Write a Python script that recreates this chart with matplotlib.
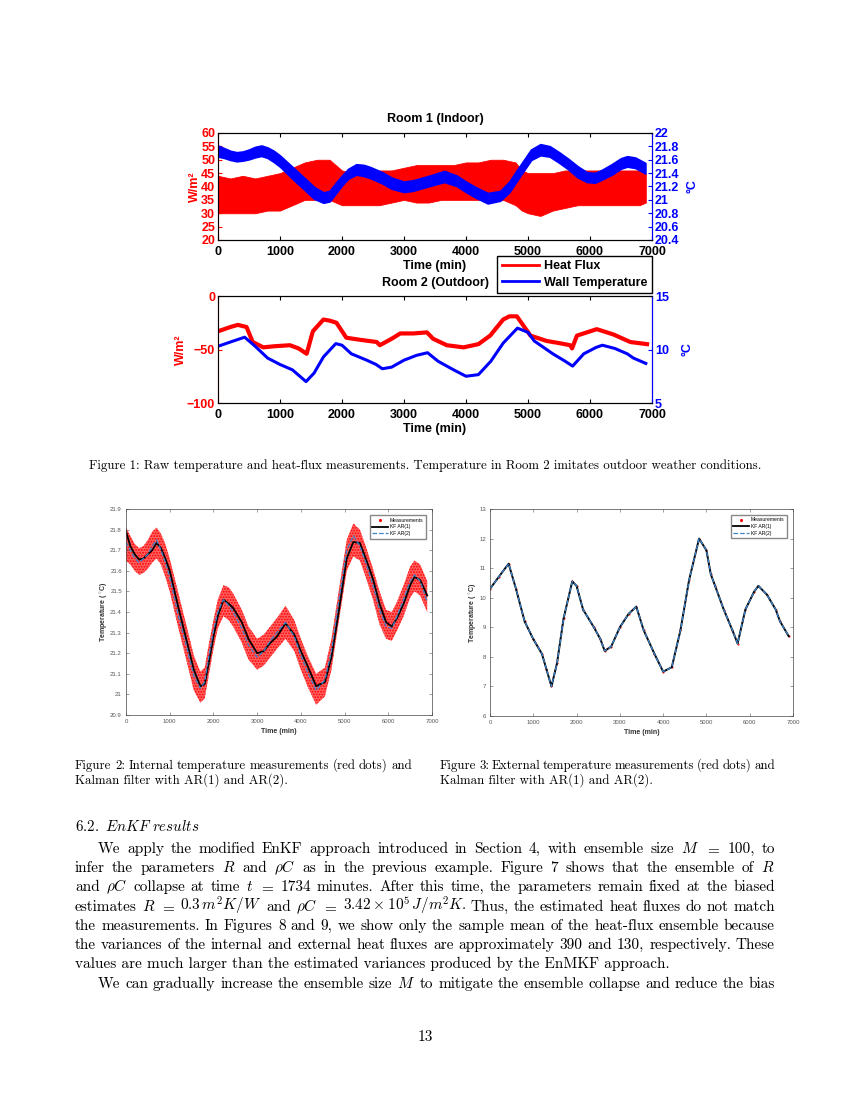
import matplotlib
matplotlib.use("Agg")
import matplotlib.pyplot as plt
from matplotlib.lines import Line2D
from matplotlib.ticker import FuncFormatter
import numpy as np

plt.rcParams['font.family'] = ['Liberation Sans', 'DejaVu Sans']
plt.rcParams['mathtext.fontset'] = 'cm'
plt.rcParams['hatch.linewidth'] = 0.9

# Room 1 heat flux, envelope of the dense signal (W/m^2)
t_flux1 = [0, 200, 400, 600, 800, 1000, 1100, 1200, 1300, 1400, 1600, 1800, 1900, 2000,
           2200, 2400, 2600, 2800, 3000, 3200, 3400, 3600, 3800, 4000, 4200, 4400, 4600,
           4800, 4900, 5000, 5200, 5400, 5600, 5800, 6000, 6200, 6400, 6600, 6800, 6900]
flux1_hi = [44, 43, 44, 43, 44, 45, 46, 47, 48, 49, 50, 50, 48, 46,
            45, 45, 46, 46, 47, 48, 48, 48, 48, 49, 49, 50, 50,
            49, 46, 45, 45, 45, 46, 46, 46, 46, 46, 46, 46, 45]
flux1_lo = [30, 30, 30, 30, 31, 31, 32, 33, 34, 35, 35, 35, 34, 33,
            33, 33, 33, 34, 35, 34, 34, 35, 35, 35, 35, 35, 35,
            33, 31, 30, 29, 31, 32, 33, 33, 33, 33, 33, 33, 34]

# internal wall temperature (deg C): measurements band and Kalman filters
t_in = [0, 100, 200, 300, 400, 500, 600, 700, 800, 900, 1000, 1200, 1400, 1550, 1700,
        1800, 1900, 2000, 2100, 2230, 2350, 2450, 2650, 2800, 3000, 3150, 3300, 3450,
        3650, 3850, 4000, 4150, 4350, 4550, 4700, 4850, 5050, 5200, 5350, 5500, 5650,
        5800, 5950, 6080, 6200, 6350, 6500, 6600, 6730, 6890]
meas_hi = [21.81, 21.77, 21.73, 21.71, 21.72, 21.75, 21.79, 21.81, 21.78, 21.73, 21.66,
           21.49, 21.32, 21.19, 21.11, 21.13, 21.25, 21.36, 21.46, 21.53, 21.52, 21.49,
           21.41, 21.33, 21.27, 21.29, 21.33, 21.37, 21.43, 21.36, 21.27, 21.19, 21.10,
           21.13, 21.27, 21.48, 21.75, 21.83, 21.80, 21.71, 21.61, 21.50, 21.41, 21.40,
           21.45, 21.53, 21.62, 21.65, 21.63, 21.55]
meas_lo = [21.65, 21.63, 21.60, 21.58, 21.59, 21.61, 21.64, 21.66, 21.63, 21.57, 21.50,
           21.32, 21.15, 21.02, 20.96, 20.98, 21.10, 21.22, 21.32, 21.38, 21.36, 21.33,
           21.25, 21.17, 21.12, 21.14, 21.18, 21.22, 21.27, 21.21, 21.12, 21.04, 20.95,
           20.99, 21.12, 21.33, 21.60, 21.67, 21.65, 21.56, 21.46, 21.34, 21.27, 21.26,
           21.31, 21.38, 21.47, 21.50, 21.48, 21.40]
kf1_in = [21.79, 21.72, 21.68, 21.655, 21.66, 21.68, 21.70, 21.735, 21.71, 21.66, 21.60,
          21.42, 21.25, 21.12, 21.04, 21.05, 21.16, 21.28, 21.38, 21.46, 21.44, 21.42,
          21.35, 21.27, 21.20, 21.21, 21.25, 21.28, 21.345, 21.29, 21.21, 21.14, 21.04,
          21.06, 21.18, 21.38, 21.66, 21.74, 21.735, 21.65, 21.56, 21.44, 21.35, 21.33,
          21.37, 21.44, 21.53, 21.57, 21.555, 21.48]
kf2_in = [21.74, 21.70, 21.66, 21.64, 21.66, 21.68, 21.72, 21.75, 21.70, 21.64, 21.57,
          21.38, 21.22, 21.09, 21.03, 21.06, 21.19, 21.31, 21.40, 21.46, 21.43, 21.40,
          21.32, 21.24, 21.18, 21.21, 21.26, 21.30, 21.35, 21.28, 21.19, 21.11, 21.02,
          21.07, 21.21, 21.43, 21.70, 21.77, 21.72, 21.63, 21.53, 21.41, 21.33, 21.32,
          21.38, 21.46, 21.55, 21.58, 21.55, 21.45]

# Room 2 heat flux (W/m^2)
t_flux2 = [0, 100, 200, 320, 460, 560, 730, 900, 1160, 1300, 1430, 1530, 1700, 1800, 1910,
           2070, 2300, 2560, 2610, 2800, 2940, 3150, 3370, 3470, 3690, 3960, 4200, 4390,
           4600, 4700, 4820, 5040, 5300, 5500, 5680, 5710, 5790, 6110, 6380, 6650, 6920]
flux2 = [-33, -31, -29, -27, -29, -43, -48, -47, -46, -49, -54, -33, -22, -23, -25,
         -39, -41, -43, -46, -40, -35, -35, -34, -40, -46, -48, -45, -37,
         -22, -19, -19, -37, -42, -44, -46, -49, -37, -31, -36, -43, -45]

# external wall temperature (deg C)
t_out = [0, 200, 430, 600, 800, 1000, 1200, 1300, 1420, 1550, 1700, 1900, 2000, 2150,
         2400, 2550, 2650, 2800, 3000, 3200, 3380, 3550, 3800, 4000, 4200, 4400, 4600,
         4830, 5000, 5100, 5200, 5400, 5600, 5720, 5900, 6100, 6200, 6400, 6600, 6700, 6900]
temp_out = [10.3, 10.7, 11.15, 10.3, 9.2, 8.6, 8.1, 7.6, 7.0, 7.8, 9.3, 10.55, 10.4, 9.6,
            9.0, 8.6, 8.2, 8.35, 9.0, 9.45, 9.7, 8.9, 8.1, 7.5, 7.65, 8.9, 10.6,
            12.0, 11.6, 10.8, 10.4, 9.6, 8.9, 8.45, 9.6, 10.2, 10.4, 10.1, 9.6, 9.2, 8.7]

time_ticks = list(range(0, 7001, 1000))

fig = plt.figure(figsize=(8.5, 11), dpi=100)
W, H = 850, 1100


def box(x0, y0, x1, y1):
    return fig.add_axes([x0 / W, 1 - y1 / H, (x1 - x0) / W, (y1 - y0) / H])


num = FuncFormatter(lambda v, p: ('%g' % round(v, 3)).replace('-', '\u2212'))


def old_style(ax, axr, lcol, rcol, rpad):
    ax.set_xlim(0, 7000)
    ax.set_xticks(time_ticks)
    ax.tick_params(direction='in', top=True, length=3, width=0.8, labelsize=9, pad=2)
    ax.tick_params(axis='x', pad=4)
    ax.tick_params(axis='y', colors=lcol)
    axr.tick_params(direction='in', length=3, width=0.8, labelsize=9, pad=2, colors=rcol)
    ax.spines['left'].set_color(lcol)
    axr.spines['right'].set_color(rcol)
    for a in (ax, axr):
        a.yaxis.set_major_formatter(num)
        for lab in a.get_xticklabels() + a.get_yticklabels():
            lab.set_fontweight('bold')
    ax.set_xlabel('Time (min)', fontsize=9, fontweight='bold', labelpad=1.5)
    ax.set_ylabel('W/m\u00b2', fontsize=9, fontweight='bold', color=lcol, labelpad=0)
    axr.set_ylabel('\u00b0C', fontsize=9, fontweight='bold', color=rcol, labelpad=rpad)


# ---- Figure 1, Room 1
ax1 = box(218, 133, 652, 240)
ax1.fill_between(t_flux1, flux1_lo, flux1_hi, color='red', lw=0.6)
ax1.set_ylim(20, 60)
ax1.set_yticks(range(20, 61, 5))
ax1r = ax1.twinx()
ax1r.fill_between(t_in, meas_lo, meas_hi, color='blue', lw=1.5)
ax1r.set_ylim(20.4, 22)
ax1r.set_yticks(np.linspace(20.4, 22, 9))
old_style(ax1, ax1r, 'red', 'blue', 5)
ax1.set_title('Room 1 (Indoor)', fontsize=9, fontweight='bold', pad=8)

# ---- Figure 1, Room 2
ax2 = box(218, 296, 652, 403)
ax2.plot(t_flux2, flux2, color='red', lw=3)
ax2.set_ylim(-100, 0)
ax2.set_yticks([-100, -50, 0])
ax2r = ax2.twinx()
ax2r.plot(t_out, temp_out, color='blue', lw=2.2)
ax2r.set_ylim(5, 15)
ax2r.set_yticks([5, 10, 15])
old_style(ax2, ax2r, 'red', 'blue', 9)
ax2.set_title('Room 2 (Outdoor)', fontsize=9, fontweight='bold', pad=7.5)

fig.legend(handles=[Line2D([], [], color='red', lw=2), Line2D([], [], color='blue', lw=2)],
           labels=['Heat Flux', 'Wall Temperature'], loc='upper right',
           bbox_to_anchor=(652 / W, 1 - 256 / H), fancybox=False, edgecolor='black',
           framealpha=1, prop={'weight': 'bold', 'size': 9}, handlelength=3.0,
           borderpad=0.35, labelspacing=0.35, handletextpad=0.4, borderaxespad=0)


def new_style(ax, yticks):
    ax.set_xlim(0, 7000)
    ax.set_xticks(time_ticks)
    ax.set_ylim(yticks[0], yticks[-1])
    ax.set_yticks(yticks)
    ax.yaxis.set_major_formatter(num)
    ax.tick_params(direction='in', top=True, right=True, length=2, width=0.4,
                   labelsize=4.3, colors='#555555', pad=3)
    for s in ax.spines.values():
        s.set_linewidth(0.5)
        s.set_color('#444444')
    ax.set_xlabel('Time (min)', fontsize=5, fontweight='bold', color='#333333', labelpad=3)
    ax.set_ylabel('Temperature ( $^{\\circ}$C)', fontsize=5, fontweight='bold',
                  color='#333333', labelpad=0)
    hs = [Line2D([], [], ls='none', marker='.', color='red', ms=2.5),
          Line2D([], [], color='black', lw=1.3),
          Line2D([], [], color='#3c86d0', lw=0.9, ls='--')]
    ax.legend(hs, ['Measurements', 'KF AR(1)', 'KF AR(2)'], loc='upper right',
              fontsize=3.6, fancybox=False, edgecolor='#888888', framealpha=1,
              handlelength=3.2, borderpad=0.5, labelspacing=0.35, handletextpad=0.3,
              borderaxespad=1.2)


# ---- Figure 2
ax3 = box(126, 509, 432, 715)
ax3.fill_between(t_in, meas_lo, meas_hi, facecolor='#ff6262', edgecolor='#ff0000',
                 hatch='......', lw=0)
ax3.plot(t_in, kf1_in, color='black', lw=1.3)
ax3.plot(t_in, kf2_in, color='#3c86d0', lw=0.9, ls='--')
new_style(ax3, [20.9, 21.0, 21.1, 21.2, 21.3, 21.4, 21.5, 21.6, 21.7, 21.8, 21.9])

# ---- Figure 3
ax4 = box(490, 509, 793, 716)
ax4.plot(t_out, temp_out, ls='none', marker='.', color='red', ms=1.0)
ax4.plot(t_out, temp_out, color='black', lw=1.4)
ax4.plot(t_out, temp_out, color='#3c86d0', lw=0.9, ls='--')
new_style(ax4, [6, 7, 8, 9, 10, 11, 12, 13])

# ---- page text
CM = 'cmr10'
BODY = 11.0
CAP = 9.3


def split_words(line):
    words, cur, in_math = [], '', False
    for ch in line:
        if ch == '$':
            in_math = not in_math
        if ch == ' ' and not in_math:
            if cur:
                words.append(cur)
            cur = ''
        else:
            cur += ch
    if cur:
        words.append(cur)
    return words


def justify(line, x0, x1, y, size):
    r = fig.canvas.get_renderer()
    words = split_words(line)
    arts = [fig.text(0, 1 - y / H, w, fontsize=size, family=CM, va='baseline') for w in words]
    widths = [a.get_window_extent(r).width for a in arts]
    gap = (x1 - x0 - sum(widths)) / (len(words) - 1)
    x = x0
    for a, w in zip(arts, widths):
        a.set_x(x / W)
        x += w + gap


def plain(line, x, y, size, ha='left'):
    fig.text(x / W, 1 - y / H, line, fontsize=size, family=CM, va='baseline', ha=ha)


plain('Figure 1: Raw temperature and heat-flux measurements. Temperature in Room 2 imitates '
      'outdoor weather conditions.', 425, 469, CAP, ha='center')

justify('Figure 2: Internal temperature measurements (red dots) and', 75, 412, 769, CAP)
plain('Kalman filter with AR(1) and AR(2).', 75, 784, CAP)
justify('Figure 3: External temperature measurements (red dots) and', 440, 775, 769, CAP)
plain('Kalman filter with AR(1) and AR(2).', 440, 784, CAP)

fig.text(75 / W, 1 - 831 / H, r'$\mathit{6.2.\ EnKF\ results}$', fontsize=10.8, va='baseline')

body = [
    ('We apply the modified EnKF approach introduced in Section 4, with ensemble size $M$ $=$ 100, to', 98, 853),
    ('infer the parameters $R$ and $\\rho C$ as in the previous example. Figure 7 shows that the ensemble of $R$', 75, 872),
    ('and $\\rho C$ collapse at time $t$ $=$ 1734 minutes. After this time, the parameters remain fixed at the biased', 75, 891),
    ('estimates $R$ $=$ $0.3\\,m^2K/W$ and $\\rho C$ $=$ $3.42\\times10^5\\,J/m^2K$. Thus, the estimated heat fluxes do not match', 75, 911),
    ('the measurements. In Figures 8 and 9, we show only the sample mean of the heat-flux ensemble because', 75, 930),
    ('the variances of the internal and external heat fluxes are approximately 390 and 130, respectively. These', 75, 949),
]
for line, x0, y in body:
    justify(line, x0, 775, y, BODY)
plain('values are much larger than the estimated variances produced by the EnMKF approach.', 75, 968, BODY)
justify('We can gradually increase the ensemble size $M$ to mitigate the ensemble collapse and reduce the bias', 98, 775, 988, BODY)

plain('13', 425, 1041, BODY, ha='center')

fig.savefig('out.png', dpi=100)
